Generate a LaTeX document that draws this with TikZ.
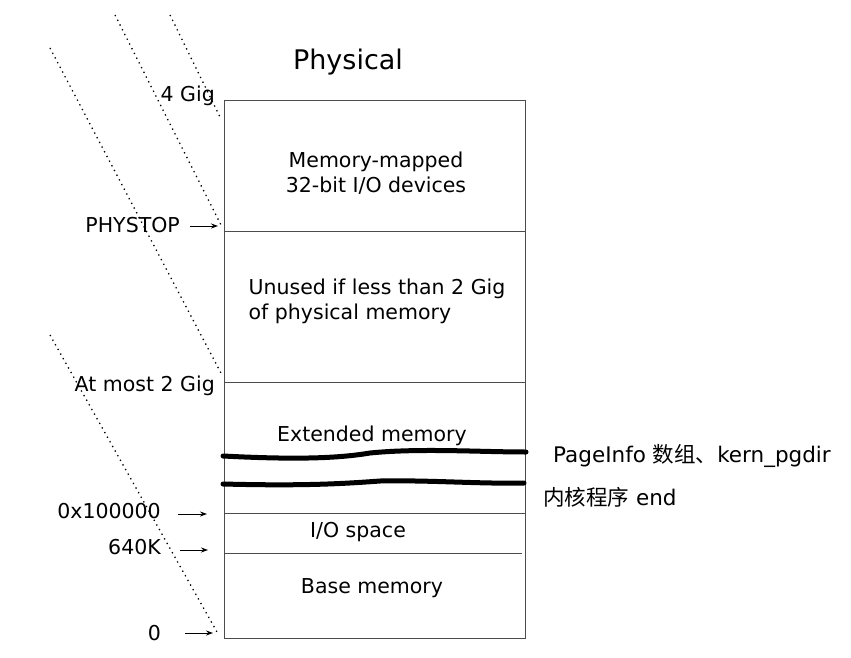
\documentclass[tikz,border=0pt]{standalone}
\usepackage{fontspec}
\usetikzlibrary{arrows.meta}
\setmainfont{DejaVu Sans}
\newfontfamily\cjk{Noto Sans CJK SC}
\begin{document}
\begin{tikzpicture}[x=1pt,y=-1pt,
  lbl/.style={font=\fontsize{20.5}{25}\selectfont,inner sep=1pt},
  dot/.style={line width=1.3pt,dash pattern=on 1.3pt off 4pt},
  arr/.style={-{Stealth[length=7pt,width=5pt]},line width=1pt},
  sep/.style={draw=black!70,line width=0.9pt}]
\useasboundingbox (0,0) rectangle (851,658);
\draw[sep] (224,100) rectangle (525,638);
\coordinate (a) at (224,231); \coordinate (a2) at (525,231);
\coordinate (b) at (224,382); \coordinate (b2) at (525,382);
\coordinate (c) at (224,513); \coordinate (c2) at (525,513);
\coordinate (d) at (224,553); \coordinate (d2) at (522,553);
\draw[sep] (a)--(a2) (b)--(b2) (c)--(c2) (d)--(d2);
\node[font=\fontsize{27}{30}\selectfont] (t) at (348,62) {Physical};
\node[lbl,align=center] (m1) at (376,173) {Memory-mapped\\32-bit I/O devices};
\node[lbl,align=left] (m2) at (377,301) {Unused if less than 2 Gig\\of physical memory};
\node[lbl] (m3) at (372,436) {Extended memory};
\node[lbl] (m4) at (358,532) {I/O space};
\node[lbl] (m5) at (372,588) {Base memory};
\node[lbl,anchor=east] (l1) at (216,96) {4 Gig};
\node[lbl,anchor=east] (l2) at (181,225) {PHYSTOP};
\node[lbl,anchor=east] (l3) at (216,386) {At most 2 Gig};
\node[lbl,anchor=east] (l4) at (162,511) {0x100000};
\node[lbl,anchor=east] (l5) at (162,547) {640K};
\node[lbl,anchor=east] (l6) at (162,633) {0};
\node[lbl,anchor=west,font=\fontsize{21.5}{25}\selectfont] (r1) at (552,456) {PageInfo {\cjk 数组、}kern\_pgdir};
\node[lbl,anchor=west,font=\fontsize{21.5}{25}\selectfont] (r2) at (542,497) {{\cjk 内核程序} end};
\coordinate (p1) at (218,226); \coordinate (p4) at (207,514);
\coordinate (p5) at (208,550); \coordinate (p6) at (213,633);
\draw[arr] (l2.east)++(9,1) -- (p1);
\draw[arr] (l4.east)++(16,3) -- (p4);
\draw[arr] (l5.east)++(18,3) -- (p5);
\draw[arr] (l6.east)++(23,0) -- (p6);
\draw[dot] (170,15)--(220,117);
\draw[dot] (115,15)--(221,225);
\draw[dot] (50,48)--(222,375);
\draw[dot] (50,335)--(217,632);
\draw[line width=5pt,line cap=round] (223,456) .. controls (300,460) and (340,458) .. (370,453) .. controls (420,448) and (480,452) .. (526,452);
\draw[line width=5pt,line cap=round] (223,484) .. controls (300,486) and (340,484) .. (380,481) .. controls (430,480) and (480,484) .. (524,483);
\end{tikzpicture}
\end{document}
